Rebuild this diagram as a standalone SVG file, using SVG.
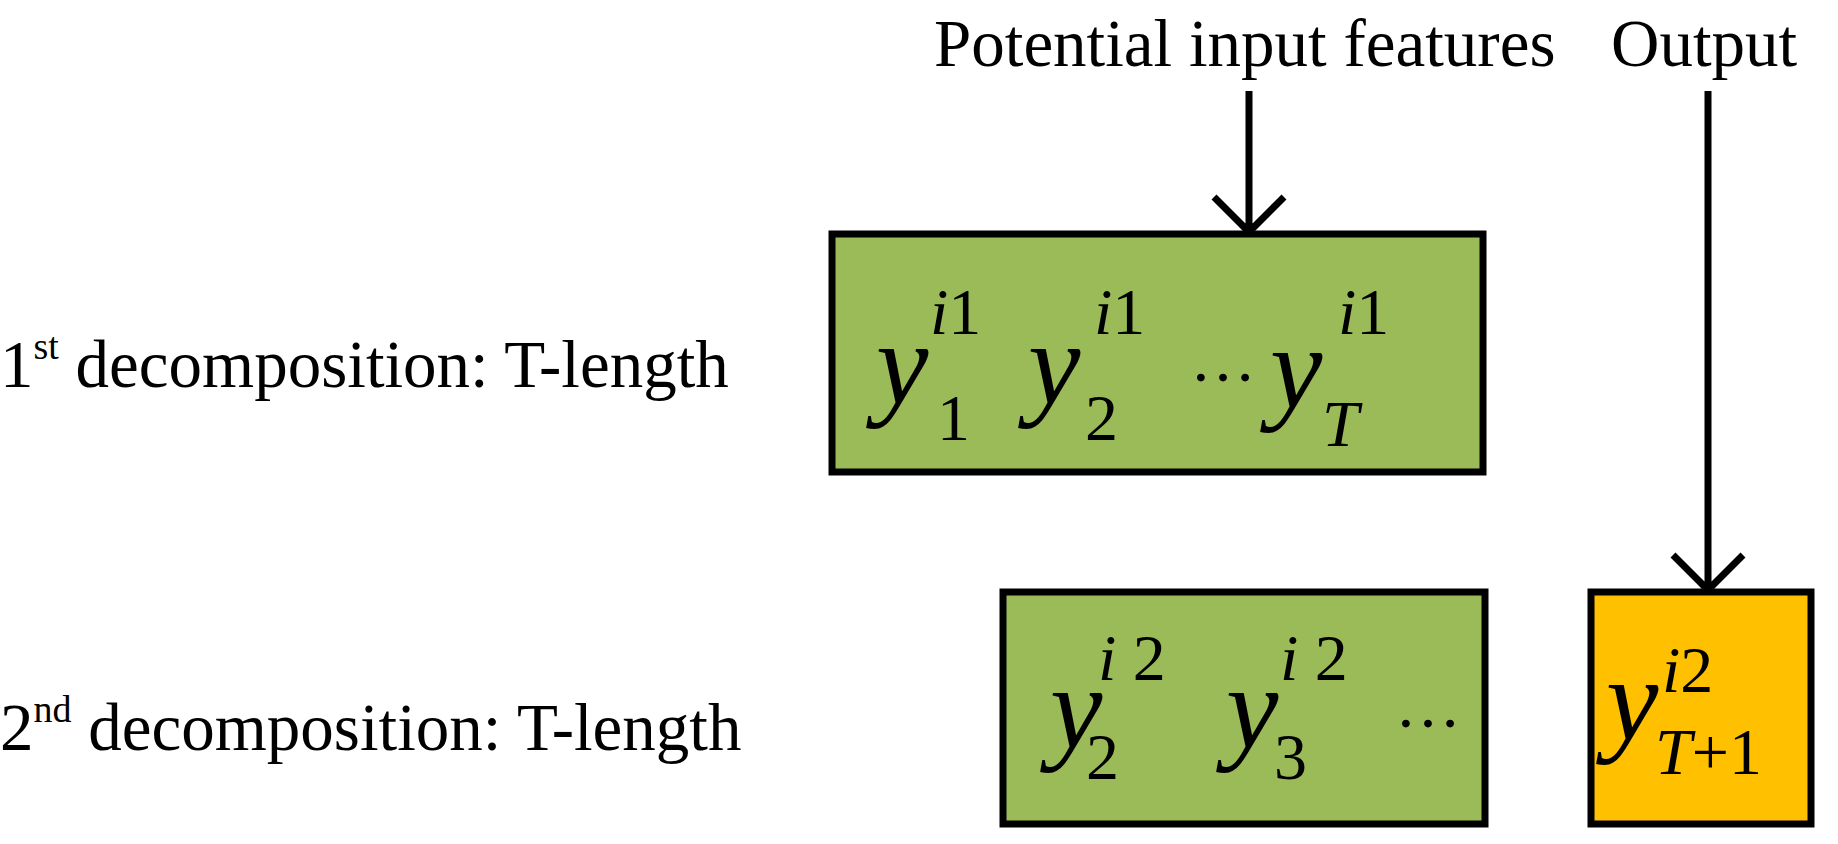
<svg xmlns="http://www.w3.org/2000/svg" width="1838" height="844" viewBox="0 0 1838 844">
<style>
text{font-family:"Liberation Serif",serif;fill:#000}
.t{font-size:67px}
.y{font-size:118px;font-style:italic}
.s{font-size:66px}
.d{font-size:66px}
.i{font-style:italic}
.box{stroke:#000;stroke-width:7}
.c{stroke:#000;stroke-width:7;fill:none}
</style>
<rect width="1838" height="844" fill="#fff"/>
<text class="t" x="934" y="66">Potential input features</text>
<text class="t" x="1611" y="66">Output</text>
<text class="t" x="0" y="387">1<tspan font-size="38" dy="-28">st</tspan><tspan dy="28"> decomposition: T-length</tspan></text>
<text class="t" x="0" y="750">2<tspan font-size="38" dy="-28">nd</tspan><tspan dy="28"> decomposition: T-length</tspan></text>
<g id="connectors">
<path class="c" d="M1249 91V232M1214 197L1249 232L1284 197"/>
<path class="c" d="M1708 91V590M1673 555L1708 590L1743 555"/>
</g>
<g id="box1">
<rect class="box" x="832" y="234" width="651" height="238" fill="#9bbb59"/>
<text class="y" x="876" y="404">y</text>
<text class="s" x="937" y="440">1</text>
<text class="s" x="930" y="334"><tspan class="i">i</tspan>1</text>
<text class="y" x="1028" y="404">y</text>
<text class="s" x="1085" y="440">2</text>
<text class="s" x="1094" y="334"><tspan class="i">i</tspan>1</text>
<text class="d" x="1190" y="381">…</text>
<text class="y" x="1270" y="408">y</text>
<text class="s i" x="1322" y="446">T</text>
<text class="s" x="1338" y="334"><tspan class="i">i</tspan>1</text>
</g>
<g id="box2">
<rect class="box" x="1003" y="592" width="482" height="232" fill="#9bbb59"/>
<text class="y" x="1050" y="748">y</text>
<text class="s" x="1086" y="779">2</text>
<text class="s" x="1098" y="680"><tspan class="i">i</tspan> 2</text>
<text class="y" x="1226" y="748">y</text>
<text class="s" x="1274" y="779">3</text>
<text class="s" x="1280" y="680"><tspan class="i">i</tspan> 2</text>
<text class="d" x="1395" y="727">…</text>
</g>
<g id="box3">
<rect class="box" x="1591" y="592" width="220" height="232" fill="#ffc000"/>
<text class="y" x="1606" y="740">y</text>
<text class="s" x="1662" y="692"><tspan class="i">i</tspan>2</text>
<text class="s" x="1655" y="774"><tspan class="i">T</tspan>+1</text>
</g>
</svg>
